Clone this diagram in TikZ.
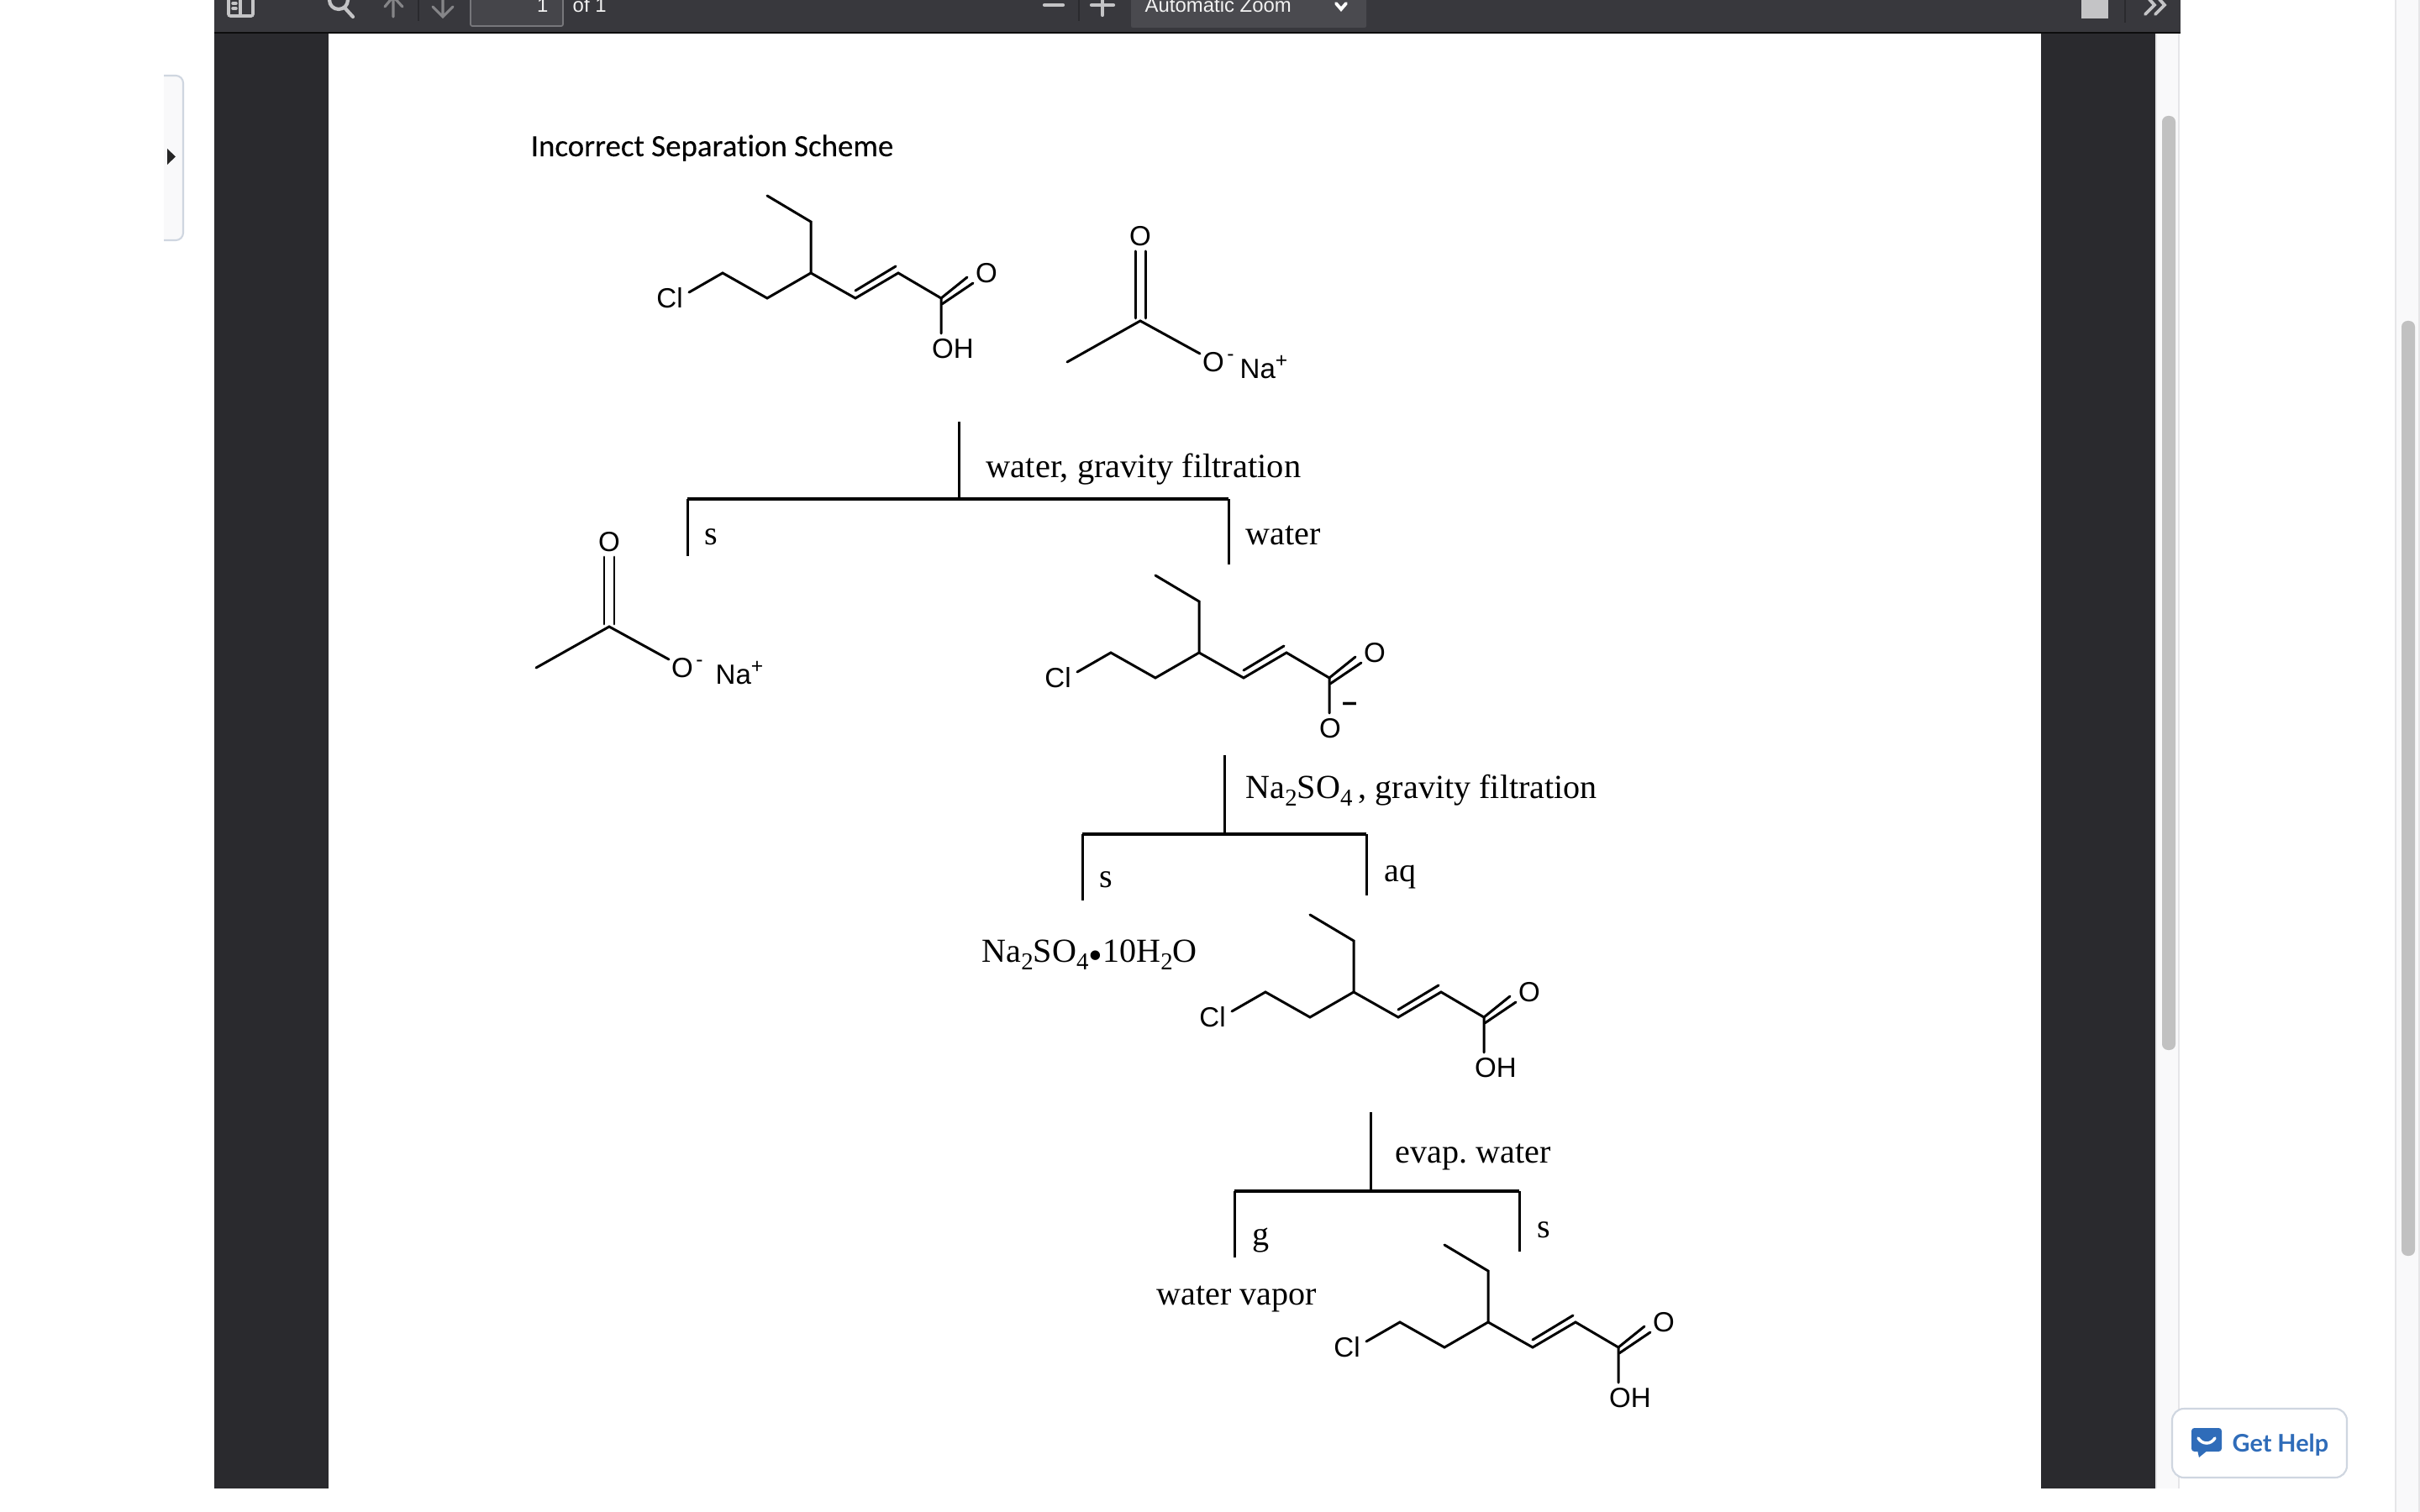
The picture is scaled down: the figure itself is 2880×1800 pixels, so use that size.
\documentclass[tikz,border=0pt]{standalone}
\usepackage{fontspec}
\setmainfont[Ligatures=CommonOff]{Liberation Serif}
\setsansfont{Liberation Sans}
\newfontfamily\titlefont[Ligatures=CommonOff,FakeBold=0.12]{Carlito}
\newfontfamily\helpfont{Lato}
\definecolor{tbar}{HTML}{38383D}
\definecolor{side}{HTML}{2A2A2E}
\definecolor{strip}{HTML}{F9F9FA}
\definecolor{edge}{HTML}{E6E6E8}
\definecolor{thumb}{HTML}{C1C1C1}
\definecolor{tabedge}{HTML}{CFD6E0}
\definecolor{helpblue}{HTML}{2F6CB9}
\definecolor{tool}{HTML}{C4C4C6}
\definecolor{toolin}{HTML}{4A4A4F}
\newcommand{\atomsup}[1]{\raisebox{0.72ex}{\fontsize{7}{8}\selectfont\sffamily #1}}
\newcommand{\notesub}[1]{\raisebox{-2.6pt}{\fontsize{8.2}{9}\selectfont #1}}
\tikzset{
  x=0.01cm,y=-0.01cm,
  bond/.style={line width=0.85pt,line cap=round,line join=miter},
  rail/.style={line width=1.15pt,line cap=butt},
  branch/.style={line width=0.85pt},
  atom/.style={font=\sffamily\fontsize{9.4}{11}\selectfont,inner sep=0pt,anchor=center},
  note/.style={font=\fontsize{11.4}{14}\selectfont\frenchspacing,inner sep=0pt,anchor=base west},
  chrome/.style={font=\sffamily\fontsize{6.8}{8}\selectfont,inner sep=0pt,text=white!95!black},
  toolline/.style={draw=tool,line width=1pt,line cap=round},
  pics/chain/.style={code={
    \coordinate (-a) at (-52,-92);
    \coordinate (-b) at (0,-61);
    \coordinate (-c) at (0,0);
    \coordinate (-d) at (-52,30);
    \coordinate (-e) at (-105,0);
    \coordinate (-clend) at (-145,23);
    \node[atom] (-cl) at (-168,30) {Cl};
    \coordinate (-f) at (53,30);
    \coordinate (-g) at (104,0);
    \coordinate (-f2) at (53,21);
    \coordinate (-g2) at (101,-8);
    \coordinate (-h) at (155,30);
    \coordinate (-o1) at (186,5);
    \coordinate (-h2) at (156,37);
    \coordinate (-o2) at (193,12);
    \coordinate (-down) at (155,72);
    \node[atom] (-o) at (209,0) {O};
    \draw[bond] (-clend) -- (-e) -- (-d) -- (-c) -- (-f) -- (-g) -- (-h) -- (-down);
    \draw[bond] (-a) -- (-b) -- (-c);
    \draw[bond] (-f2) -- (-g2);
    \draw[bond] (-h) -- (-o1);
    \draw[bond] (-h2) -- (-o2);
  }},
  pics/acetate/.style={code={
    \coordinate (-c) at (0,0);
    \coordinate (-me) at (-87,49);
    \coordinate (-end) at (71,39);
    \coordinate (-t1) at (-6,-83);
    \coordinate (-b1) at (-6,-3);
    \coordinate (-t2) at (6,-83);
    \coordinate (-b2) at (6,-3);
    \node[atom] (-otop) at (0,-101) {O};
    \node[atom] (-omin) at (87,49) {O};
    \node[atom,anchor=base west] (-ominus) at (-omin.base east) {\kern0.6pt\atomsup{-}};
    \node[atom,anchor=base west] (-na) at (#1,68) {Na\atomsup{+}};
    \draw[bond] (-me) -- (-c) -- (-end);
    \draw[bond] (-t1) -- (-b1);
    \draw[bond] (-t2) -- (-b2);
  }},
}
\begin{document}
\begin{tikzpicture}
\useasboundingbox (0,0) rectangle (2880,1800);
\clip (0,0) rectangle (2880,1800);
% viewer chrome
\fill[white] (0,0) rectangle (2880,1800);
\fill[side] (255,38) rectangle (391,1772);
\fill[side] (2429,38) rectangle (2565,1772);
\fill[strip] (2565,38) rectangle (2594,1772);
\fill[edge] (2565,38) rectangle (2567,1772);
\fill[edge] (2592,38) rectangle (2594,1772);
\fill[thumb,rounded corners=2pt] (2573,138) rectangle (2589,1250);
\fill[tbar] (255,0) rectangle (2595,38);
\fill[black!95] (255,38) rectangle (2595,40);
\fill[strip] (2851,0) rectangle (2880,1800);
\fill[edge] (2850,0) rectangle (2852,1800);
\fill[edge] (2878,0) rectangle (2880,1800);
\fill[thumb,rounded corners=2pt] (2858,382) rectangle (2874,1495);
% left tab
\filldraw[fill=strip,draw=tabedge,line width=0.6pt,rounded corners=2.5pt] (190,90) -- (218,90) -- (218,286) -- (190,286);
\fill[white] (180,85) rectangle (195,292);
\fill[black!85] (199,177) -- (209,186.5) -- (199,196) -- cycle;
% toolbar items
\draw[toolline,rounded corners=0.6pt] (272,-5) rectangle (301,19);
\draw[toolline] (286,-5) -- (286,19);
\draw[toolline] (277,4) -- (281,4) (277,10) -- (281,10);
\draw[toolline,line width=1.2pt] (403,0) circle (11);
\draw[toolline,line width=1.2pt] (410,9) -- (420,20);
\draw[draw=tool!55!tbar,line width=0.9pt,line cap=round] (468,20) -- (468,-4) (458,8) -- (468,-4) -- (479,8);
\fill[side] (497,0) rectangle (498.5,25);
\draw[draw=tool!55!tbar,line width=0.9pt,line cap=round] (527,-5) -- (527,20) (515,8) -- (527,20) -- (539,8);
\draw[draw=tool!45!tbar,fill=toolin!70!tbar,line width=0.5pt,rounded corners=0.6pt] (560,-5) rectangle (670,31);
\node[chrome,anchor=base east] (pageno) at (653,15) {1};
\node[chrome,anchor=base west] (pageof) at (681,15) {of 1};
\draw[toolline,line width=1.2pt] (1243,6) -- (1265,6);
\fill[side] (1283,0) rectangle (1284.5,25);
\draw[toolline,line width=1.2pt] (1299,6) -- (1325,6) (1312,-6) -- (1312,18);
\fill[toolin,rounded corners=0.6pt] (1346,-5) rectangle (1626,33);
\node[chrome,anchor=base west] (zoomsel) at (1362,15) {Automatic Zoom};
\draw[draw=white,line width=1.1pt,line cap=round] (1590,4) -- (1596,11) -- (1602,4);
\fill[tool] (2477,-2) rectangle (2509,22);
\fill[side] (2528,0) rectangle (2529.5,27);
\draw[toolline,line width=1.1pt] (2553,17) -- (2564,6) -- (2556,-3) (2565,17) -- (2576,6) -- (2568,-3);
% help button
\draw[draw=tabedge,fill=white,line width=0.6pt,rounded corners=4pt] (2585,1677) rectangle (2793,1759);
\fill[helpblue,rounded corners=1pt] (2608,1700) rectangle (2644,1728);
\fill[helpblue] (2615,1726) -- (2628,1726) -- (2617,1735) -- cycle;
\draw[white,line width=1pt,line cap=round] (2616,1712) .. controls (2621,1720) and (2631,1720) .. (2636,1712);
\node[font=\helpfont\bfseries\fontsize{8.2}{10}\selectfont,text=helpblue,inner sep=0pt,anchor=base west] (help) at (2656,1728) {Get Help};
% title
\node[font=\titlefont\fontsize{10.5}{13}\selectfont,inner sep=0pt,anchor=base west] (title) at (631,186) {Incorrect Separation Scheme};
% starting materials
\pic (m1) at (965,325) {chain};
\node[atom] (m1oh) at (1134,415) {OH};
\pic (s1) at (1357,382) {acetate=118};
% tree 1
\coordinate (t1top) at (1141,502);
\coordinate (t1mid) at (1141,594);
\coordinate (t1l) at (818,594);
\coordinate (t1r) at (1462,594);
\coordinate (t1lb) at (818,662);
\coordinate (t1rb) at (1462,672);
\draw[branch] (t1top) -- (t1mid);
\draw[rail] (t1l) -- (t1r);
\draw[branch] (t1l) -- (t1lb);
\draw[branch] (t1r) -- (t1rb);
\node[note,font=\fontsize{11.5}{14}\selectfont\frenchspacing] (n1) at (1173,568) {water, gravity filtration};
\node[note] (n2) at (838,648) {s};
\node[note] (n3) at (1482,648) {water};
\pic (s2) at (725,746) {acetate=126};
\pic (m2) at (1427,777) {chain};
\node[atom] (m2om) at (1583,867) {O};
\node[atom,font=\sffamily\bfseries\fontsize{9}{9}\selectfont] (m2minus) at (1606,842) {−};
% tree 2
\coordinate (t2top) at (1457,899);
\coordinate (t2mid) at (1457,993);
\coordinate (t2l) at (1288,993);
\coordinate (t2r) at (1626,993);
\coordinate (t2lb) at (1288,1072);
\coordinate (t2rb) at (1626,1066);
\draw[branch] (t2top) -- (t2mid);
\draw[rail] (t2l) -- (t2r);
\draw[branch] (t2l) -- (t2lb);
\draw[branch] (t2r) -- (t2rb);
\node[note] (n4) at (1482,950) {Na\notesub{2}SO\notesub{4}\kern2.1pt, gravity filtration};
\node[note] (n5) at (1308,1056) {s};
\node[note] (n6) at (1647,1049) {aq};
\node[note] (n7) at (1168,1145) {Na\notesub{2}SO\notesub{4}\raisebox{-2.3pt}{\fontsize{13.6}{14}\selectfont •}10H\notesub{2}O};
\pic (m3) at (1611,1181) {chain};
\node[atom] (m3oh) at (1780,1271) {OH};
% tree 3
\coordinate (t3top) at (1631.5,1324);
\coordinate (t3mid) at (1631.5,1418);
\coordinate (t3l) at (1469,1418);
\coordinate (t3r) at (1808,1418);
\coordinate (t3lb) at (1469,1497);
\coordinate (t3rb) at (1808,1490);
\draw[branch] (t3top) -- (t3mid);
\draw[rail] (t3l) -- (t3r);
\draw[branch] (t3l) -- (t3lb);
\draw[branch] (t3r) -- (t3rb);
\node[note] (n8) at (1660,1384) {evap. water};
\node[note] (n9) at (1490,1482) {g};
\node[note] (n10) at (1829,1473) {s};
\node[note] (n11) at (1376,1553) {water vapor};
\pic (m4) at (1771,1574) {chain};
\node[atom] (m4oh) at (1940,1664) {OH};
\end{tikzpicture}
\end{document}
